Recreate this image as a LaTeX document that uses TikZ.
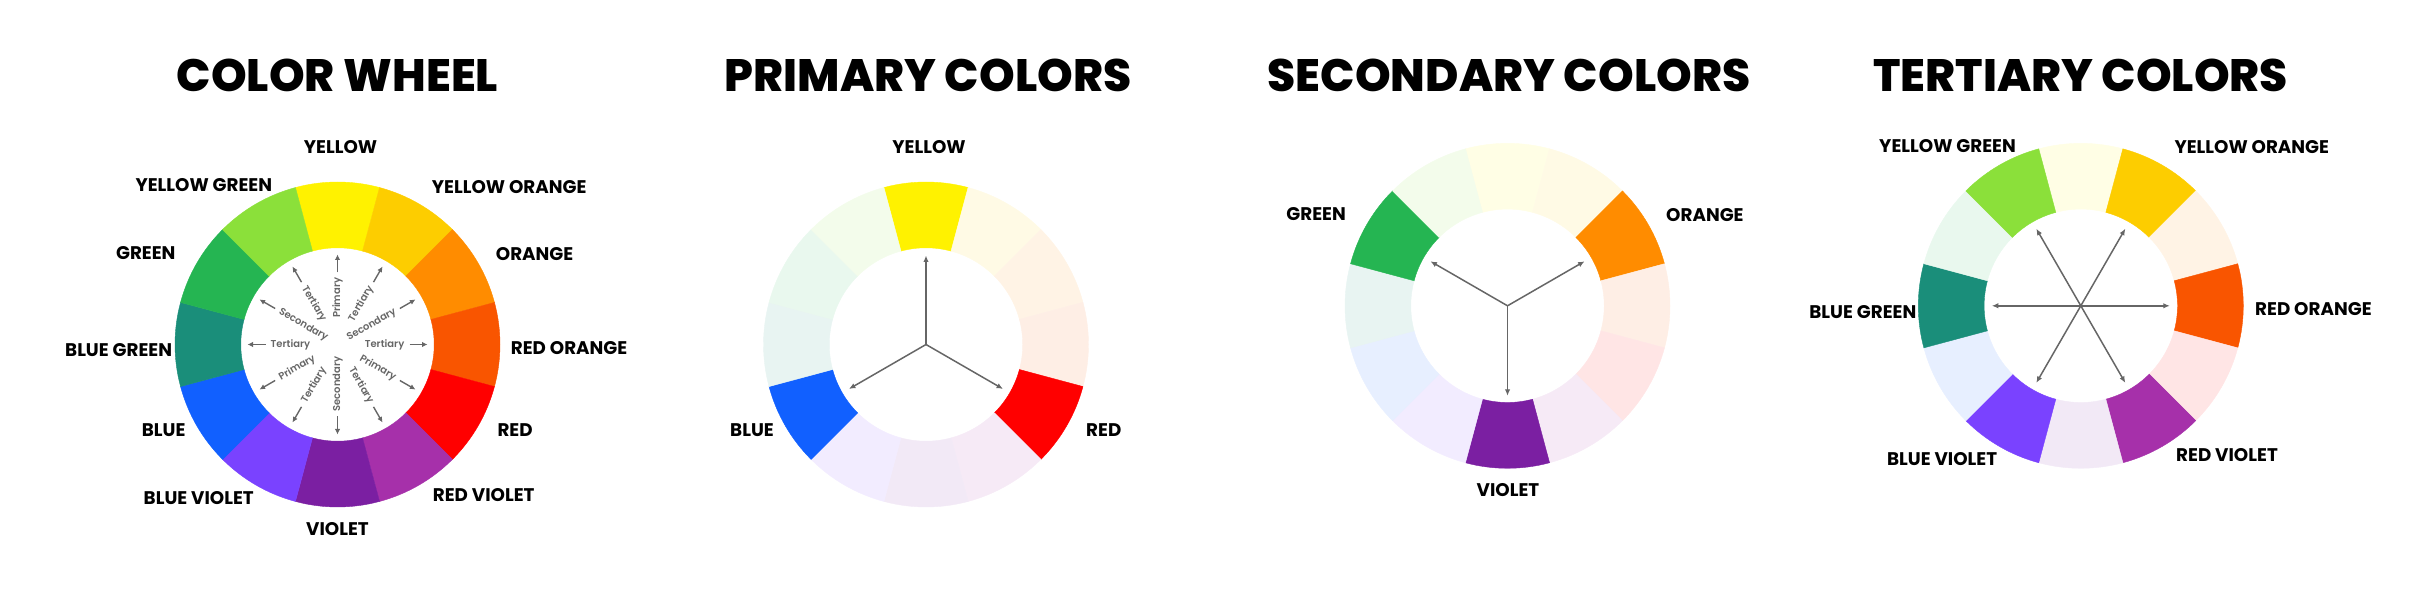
\documentclass[tikz,border=0pt]{standalone}
\usepackage{fontspec}
\usetikzlibrary{arrows.meta}
\setmainfont{Poppins}
\IfFontExistsTF{Poppins ExtraBold}{\newfontfamily\titlefam{Poppins ExtraBold}}{\newcommand\titlefam{\bfseries}}
\IfFontExistsTF{Poppins SemiBold}{\newfontfamily\innerfam{Poppins SemiBold}}{\newcommand\innerfam{}}
\definecolor{cY}{HTML}{FFF200}
\definecolor{cYO}{HTML}{FDCD00}
\definecolor{cO}{HTML}{FF8C00}
\definecolor{cRO}{HTML}{F95500}
\definecolor{cR}{HTML}{FF0000}
\definecolor{cRV}{HTML}{A630AA}
\definecolor{cV}{HTML}{7B1FA2}
\definecolor{cBV}{HTML}{7A42FF}
\definecolor{cB}{HTML}{1160FF}
\definecolor{cBG}{HTML}{1A8E7A}
\definecolor{cG}{HTML}{25B552}
\definecolor{cYG}{HTML}{8BE03A}
\definecolor{arrgray}{HTML}{666666}
\definecolor{txtgray}{HTML}{666666}
\newcommand\mywheel[3]{%
  \begin{scope}[shift={(#1,#2)}]
    \foreach \c/\a in {#3}{%
      \filldraw[fill=\c, draw=\c, line width=0.4pt]
        (\a-15:162.5) arc[start angle=\a-15, end angle=\a+15, radius=162.5]
        -- (\a+15:96.7) arc[start angle=\a+15, end angle=\a-15, radius=96.7] -- cycle;
    }
  \end{scope}}
\begin{document}
\begin{tikzpicture}[x=1pt,y=1pt,
  title/.style={font=\titlefam\fontsize{45.4}{50}\selectfont, anchor=base, inner sep=0pt},
  lab/.style={font=\bfseries\fontsize{18.3}{22}\selectfont, inner sep=0pt},
  inlab/.style={font=\innerfam\fontsize{10}{12}\selectfont, text=txtgray, inner sep=0pt},
  arr/.style={draw=arrgray, line width=1.5pt, -{Latex[length=6.5pt,width=5.5pt]}},
  darr/.style={draw=arrgray, line width=1.5pt, {Latex[length=6.5pt,width=5.5pt]}-{Latex[length=6.5pt,width=5.5pt]}},
  sarr/.style={draw=arrgray, line width=1.4pt, -{Latex[length=5.5pt,width=5.5pt]}}]
\useasboundingbox (0,0) rectangle (2434,603);

% ---------- titles
\node[title] (t1) at (337.5,511.3) {COLOR WHEEL};
\node[title] (t2) at (928,511.3) {PRIMARY COLORS};
\node[title] (t3) at (1509,511.3) {SECONDARY COLORS};
\node[title] (t4) at (2080.7,511.3) {TERTIARY COLORS};

% ---------- wheel 1
\mywheel{337.5}{258.5}{cY/90,cYO/60,cO/30,cRO/0,cR/-30,cRV/-60,cV/-90,cBV/-120,cB/-150,cBG/180,cG/150,cYG/120}
\begin{scope}[shift={(337.5,258.5)}]
  \foreach \a/\t/\r/\an [count=\i] in {90/Primary/90/mid east,60/Tertiary/60/mid east,30/Secondary/30/mid east,0/Tertiary/0/mid east,-30/Primary/-30/mid east,-60/Tertiary/-60/mid east,-90/Secondary/90/mid west,-120/Tertiary/60/mid west,-150/Primary/30/mid west,180/Tertiary/0/mid west,150/Secondary/-30/mid west,120/Tertiary/-60/mid west}{
    \node[inlab, rotate=\r, anchor=\an] (w1t\i) at (\a:67) {\t};
    \coordinate (w1s\i) at (\a:72);
    \coordinate (w1e\i) at (\a:90);
    \draw[sarr] (w1s\i) -- (w1e\i);
  }
\end{scope}
\node[lab, anchor=base] (l1y) at (340.5,449.7) {YELLOW};
\node[lab, anchor=base east] (l1yg) at (272.3,411.3) {YELLOW GREEN};
\node[lab, anchor=base west] (l1yo) at (431.7,409.7) {YELLOW ORANGE};
\node[lab, anchor=base east] (l1g) at (175.7,343) {GREEN};
\node[lab, anchor=base west] (l1o) at (495.7,342) {ORANGE};
\node[lab, anchor=base east] (l1bg) at (172.3,246.3) {BLUE GREEN};
\node[lab, anchor=base west] (l1ro) at (510.7,248.7) {RED ORANGE};
\node[lab, anchor=base east] (l1b) at (185.7,166.3) {BLUE};
\node[lab, anchor=base west] (l1r) at (497.3,167) {RED};
\node[lab, anchor=base east] (l1bv) at (254,99) {BLUE VIOLET};
\node[lab, anchor=base west] (l1rv) at (432.7,102) {RED VIOLET};
\node[lab, anchor=base] (l1v) at (337.5,67.7) {VIOLET};

% ---------- wheel 2 (primary)
\mywheel{926}{258.5}{cY/90,cYO!10!white/60,cO!10!white/30,cRO!10!white/0,cR/-30,cRV!10!white/-60,cV!10!white/-90,cBV!10!white/-120,cB/-150,cBG!10!white/180,cG!10!white/150,cYG!10!white/120}
\coordinate (c2) at (926,258.5);
\begin{scope}[shift={(926,258.5)}]
  \coordinate (p2a) at (90:89);
  \coordinate (p2b) at (-30:89);
  \coordinate (p2c) at (-150:89);
\end{scope}
\draw[arr] (c2) -- (p2a);
\draw[arr] (c2) -- (p2b);
\draw[arr] (c2) -- (p2c);
\node[lab, anchor=base] (l2y) at (929,449) {YELLOW};
\node[lab, anchor=base east] (l2b) at (774,166.3) {BLUE};
\node[lab, anchor=base west] (l2r) at (1086,167) {RED};

% ---------- wheel 3 (secondary)
\mywheel{1507.5}{297.2}{cY!10!white/90,cYO!10!white/60,cO/30,cRO!10!white/0,cR!10!white/-30,cRV!10!white/-60,cV/-90,cBV!10!white/-120,cB!10!white/-150,cBG!10!white/180,cG/150,cYG!10!white/120}
\coordinate (c3) at (1507.5,297.2);
\begin{scope}[shift={(1507.5,297.2)}]
  \coordinate (p3a) at (150:89);
  \coordinate (p3b) at (30:89);
  \coordinate (p3c) at (-90:90);
\end{scope}
\draw[arr] (c3) -- (p3a);
\draw[arr] (c3) -- (p3b);
\draw[arr] (c3) -- (p3c);
\node[lab, anchor=base east] (l3g) at (1346,382.3) {GREEN};
\node[lab, anchor=base west] (l3o) at (1666,381.3) {ORANGE};
\node[lab, anchor=base] (l3v) at (1508,106.3) {VIOLET};

% ---------- wheel 4 (tertiary)
\mywheel{2080.8}{297.2}{cY!10!white/90,cYO/60,cO!10!white/30,cRO/0,cR!10!white/-30,cRV/-60,cV!10!white/-90,cBV/-120,cB!10!white/-150,cBG/180,cG!10!white/150,cYG/120}
\begin{scope}[shift={(2080.8,297.2)}]
  \coordinate (q4a) at (0:89);
  \coordinate (q4b) at (180:89);
  \coordinate (q4c) at (60:89);
  \coordinate (q4d) at (-120:89);
  \coordinate (q4e) at (120:89);
  \coordinate (q4f) at (-60:89);
\end{scope}
\draw[darr] (q4b) -- (q4a);
\draw[darr] (q4d) -- (q4c);
\draw[darr] (q4f) -- (q4e);
\node[lab, anchor=base east] (l4yg) at (2016,450.3) {YELLOW GREEN};
\node[lab, anchor=base west] (l4yo) at (2174.3,449) {YELLOW ORANGE};
\node[lab, anchor=base east] (l4bg) at (1916.5,284.7) {BLUE GREEN};
\node[lab, anchor=base west] (l4ro) at (2255,287) {RED ORANGE};
\node[lab, anchor=base east] (l4bv) at (1997.3,138) {BLUE VIOLET};
\node[lab, anchor=base west] (l4rv) at (2176,141.3) {RED VIOLET};
\end{tikzpicture}
\end{document}
